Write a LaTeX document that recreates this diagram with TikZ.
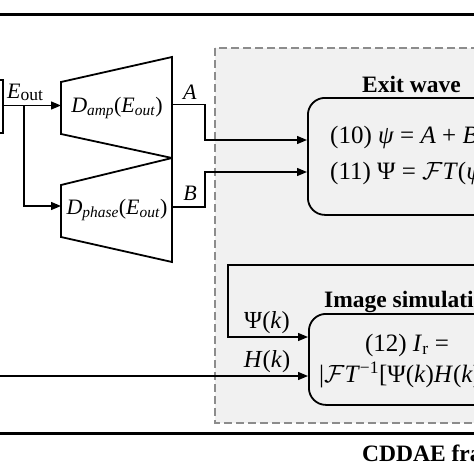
\documentclass[tikz,border=0pt]{standalone}
\usepackage{fontspec}
\setmainfont{Liberation Serif}
\usetikzlibrary{arrows.meta}
\definecolor{panelgray}{HTML}{F1F1F1}
\definecolor{dashgray}{HTML}{8C8C8C}
\tikzset{
  conn/.style={line width=1.3pt},
  arr/.style={conn,-{Triangle[length=10pt,width=8pt]}},
  trap/.style={line width=1.8pt,line join=miter},
  rbox/.style={draw,line width=1.8pt,rounded corners=17pt,fill=panelgray},
  lbl/.style={inner sep=0pt},
  eqfont/.style={font=\fontsize{25}{29}\selectfont},
  ttlfont/.style={font=\fontsize{23.5}{27}\selectfont\bfseries},
  portfont/.style={font=\fontsize{24.5}{28}\selectfont},
  rule/.style={line width=3pt}
}
\begin{document}
\begin{tikzpicture}[x=1pt,y=-1pt,font=\fontsize{22}{26}\selectfont]
\useasboundingbox (0,0) rectangle (474,474);
\clip (0,0) rectangle (474,474);
\fill[white] (0,0) rectangle (474,474);
% rules
\draw[rule] (-5,14.5) -- (480,14.5);
\draw[rule] (-5,433) -- (480,433);
% dashed panel
\draw[fill=panelgray,draw=dashgray,line width=2pt,dash pattern=on 8pt off 4pt] (215,48) rectangle (560,423);
% encoder box (partially visible)
\node[draw,line width=1.8pt,minimum width=60pt,minimum height=53pt,inner sep=0pt] (enc) at (-27,106.5) {};
% decoders
\draw[trap] (61,82) -- (172,57) -- (172,158) -- (61,134) -- cycle;
\draw[trap] (61,185) -- (172,158) -- (172,262) -- (61,237) -- cycle;
\node[lbl] (damp) at (117,108) {\textit{D}\textsubscript{\textit{amp}}(\textit{E}\textsubscript{\textit{out}})};
\node[lbl] (dphase) at (117,210) {\textit{D}\textsubscript{\textit{phase}}(\textit{E}\textsubscript{\textit{out}})};
\coordinate (ampin) at (61,105.5);
\coordinate (phin) at (61,206);
\coordinate (ampout) at (172,104.5);
\coordinate (phout) at (172,207);
% boxes
\node[rbox,minimum width=240pt,minimum height=117pt,anchor=north west] (exit) at (307,97) {};
\node[rbox,minimum width=240pt,minimum height=91pt,anchor=north west] (sim) at (308,313) {};
\coordinate (exitA) at (307,140);
\coordinate (exitB) at (307,172);
\coordinate (simP) at (308,337);
\coordinate (simH) at (308,376);
\coordinate (psisrc) at (490,265);
\coordinate (hsrc) at (-5,376);
\coordinate (split) at (24,105.5);
% connectors
\draw[arr] (enc.east |- ampin) -- (ampin);
\draw[arr] (split) |- (phin);
\draw[arr] (ampout) -- (205,104.5) |- (exitA);
\draw[arr] (phout) -- (205,207) |- (exitB);
\draw[arr] (psisrc) -| (228,337) -- (simP);
\draw[arr] (hsrc) -- (simH);
% labels
\node[lbl,anchor=base west] (eout) at (7,98) {\textit{E}{\fontsize{17.5}{18}\selectfont\raisebox{-2pt}{out}}};
\node[lbl,anchor=base] (alab) at (190,99) {\textit{A}};
\node[lbl,anchor=base] (blab) at (190,200) {\textit{B}};
\node[lbl,portfont] (psik) at (267,323) {Ψ(\textit{k})};
\node[lbl,portfont] (hk) at (267,362) {\textit{H}(\textit{k})};
\node[lbl,ttlfont,anchor=west] (exittitle) at (362,84) {Exit wave};
\node[lbl,eqfont,anchor=west] (eq10) at (330,137) {(10) \textit{ψ} = \textit{A} + \textit{B}};
\node[lbl,eqfont,anchor=west] (eq11) at (330,173) {(11) Ψ = $\mathcal{F}$\textit{T}(\textit{ψ})};
\node[lbl,ttlfont,anchor=west] (simtitle) at (324,302) {Image simulation};
\node[lbl,eqfont] (eq12a) at (407,345) {(12) \textit{I}\textsubscript{r} =};
\node[lbl,eqfont,anchor=west] (eq12b) at (319,375) {|$\mathcal{F}$\textit{T}\textsuperscript{−1}[Ψ(\textit{k})\textit{H}(\textit{k})]|\textsuperscript{2}};
\node[lbl,ttlfont,anchor=west] (caption) at (362,453) {CDDAE framework};
\end{tikzpicture}
\end{document}
